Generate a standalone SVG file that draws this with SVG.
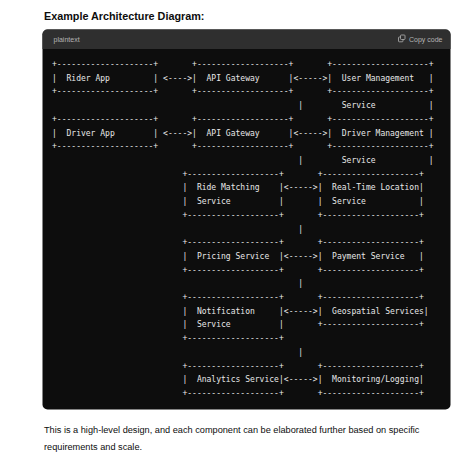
<svg xmlns="http://www.w3.org/2000/svg" width="474" height="460" viewBox="0 0 474 460">
<style>
.m{font-family:"DejaVu Sans Mono","Liberation Mono",monospace;font-size:8.02px;fill:#e8e8e8;white-space:pre}
.h{font-family:"Liberation Sans",Arial,sans-serif;font-size:7px;fill:#b4b4b4}
.p{font-family:"Liberation Sans",Arial,sans-serif;font-size:9.2px;fill:#0d0d0d}
</style>
<rect width="474" height="460" fill="#ffffff"/>
<text x="44" y="20" style="font-family:'Liberation Sans',Arial,sans-serif;font-size:10.8px;font-weight:bold;fill:#0d0d0d">Example Architecture Diagram:</text>
<g id="code-block">
<rect x="42.5" y="29.5" width="408" height="380" rx="5" fill="#0d0d0d"/>
<path d="M42.5 49 V34.5 a5 5 0 0 1 5 -5 H445.5 a5 5 0 0 1 5 5 V49 Z" fill="#2f2f2f"/>
<text class="h" x="53.5" y="41.5">plaintext</text>
<g fill="none" stroke="#b4b4b4" stroke-width="0.8">
<rect x="400.5" y="35" width="4.5" height="4.5" rx="0.8"/>
<path d="M400.5 37 H399.3 a0.8 0.8 0 0 0 -0.8 0.8 V41 a0.8 0.8 0 0 0 0.8 0.8 H402.2 a0.8 0.8 0 0 0 0.8 -0.8 V39.5"/>
</g>
<text class="h" x="409" y="41.5">Copy code</text>
</g>
<g xml:space="preserve">
<g id="rider-app">
<text class="m" x="52" y="67">+--------------------+</text>
<text class="m" x="52" y="80.71">|  Rider App         |</text>
<text class="m" x="52" y="94.42">+--------------------+</text>
</g>
<g id="api-gateway-1">
<text class="m" x="192.07" y="67">+-------------------+</text>
<text class="m" x="192.07" y="80.71">|  API Gateway      |</text>
<text class="m" x="192.07" y="94.42">+-------------------+</text>
</g>
<g id="user-management">
<text class="m" x="327.31" y="67">+--------------------+</text>
<text class="m" x="327.31" y="80.71">|  User Management   |</text>
<text class="m" x="327.31" y="94.42">+--------------------+</text>
<text class="m" x="327.31" y="108.13">   Service           |</text>
</g>
<g id="driver-app">
<text class="m" x="52" y="121.84">+--------------------+</text>
<text class="m" x="52" y="135.55">|  Driver App        |</text>
<text class="m" x="52" y="149.26">+--------------------+</text>
</g>
<g id="api-gateway-2">
<text class="m" x="192.07" y="121.84">+-------------------+</text>
<text class="m" x="192.07" y="135.55">|  API Gateway      |</text>
<text class="m" x="192.07" y="149.26">+-------------------+</text>
</g>
<g id="driver-management">
<text class="m" x="327.31" y="121.84">+--------------------+</text>
<text class="m" x="327.31" y="135.55">|  Driver Management |</text>
<text class="m" x="327.31" y="149.26">+--------------------+</text>
<text class="m" x="327.31" y="162.97">   Service           |</text>
</g>
<g id="ride-matching">
<text class="m" x="182.41" y="176.68">+-------------------+</text>
<text class="m" x="182.41" y="190.39">|  Ride Matching    |</text>
<text class="m" x="182.41" y="204.1">|  Service          |</text>
<text class="m" x="182.41" y="217.81">+-------------------+</text>
</g>
<g id="real-time-location">
<text class="m" x="317.65" y="176.68">+--------------------+</text>
<text class="m" x="317.65" y="190.39">|  Real-Time Location|</text>
<text class="m" x="317.65" y="204.1">|  Service           |</text>
<text class="m" x="317.65" y="217.81">+--------------------+</text>
</g>
<g id="pricing-service">
<text class="m" x="182.41" y="245.23">+-------------------+</text>
<text class="m" x="182.41" y="258.94">|  Pricing Service  |</text>
<text class="m" x="182.41" y="272.65">+-------------------+</text>
</g>
<g id="payment-service">
<text class="m" x="317.65" y="245.23">+--------------------+</text>
<text class="m" x="317.65" y="258.94">|  Payment Service   |</text>
<text class="m" x="317.65" y="272.65">+--------------------+</text>
</g>
<g id="notification-service">
<text class="m" x="182.41" y="300.07">+-------------------+</text>
<text class="m" x="182.41" y="313.78">|  Notification     |</text>
<text class="m" x="182.41" y="327.49">|  Service          |</text>
<text class="m" x="182.41" y="341.2">+-------------------+</text>
</g>
<g id="geospatial-services">
<text class="m" x="317.65" y="300.07">+--------------------+</text>
<text class="m" x="317.65" y="313.78">|  Geospatial Services|</text>
<text class="m" x="317.65" y="327.49">+--------------------+</text>
</g>
<g id="analytics-service">
<text class="m" x="182.41" y="368.62">+-------------------+</text>
<text class="m" x="182.41" y="382.33">|  Analytics Service|</text>
<text class="m" x="182.41" y="396.04">+-------------------+</text>
</g>
<g id="monitoring-logging">
<text class="m" x="317.65" y="368.62">+--------------------+</text>
<text class="m" x="317.65" y="382.33">|  Monitoring/Logging|</text>
<text class="m" x="317.65" y="396.04">+--------------------+</text>
</g>
<g id="connectors">
<text class="m" x="163.09" y="80.71">&lt;----&gt;</text>
<text class="m" x="293.5" y="80.71">&lt;-----&gt;</text>
<text class="m" x="298.33" y="108.13">|</text>
<text class="m" x="163.09" y="135.55">&lt;----&gt;</text>
<text class="m" x="293.5" y="135.55">&lt;-----&gt;</text>
<text class="m" x="298.33" y="162.97">|</text>
<text class="m" x="283.84" y="190.39">&lt;-----&gt;</text>
<text class="m" x="298.33" y="231.52">|</text>
<text class="m" x="283.84" y="258.94">&lt;-----&gt;</text>
<text class="m" x="298.33" y="286.36">|</text>
<text class="m" x="283.84" y="313.78">&lt;-----&gt;</text>
<text class="m" x="298.33" y="354.91">|</text>
<text class="m" x="283.84" y="382.33">&lt;-----&gt;</text>
</g>
</g>
<text class="p" x="44" y="432.5">This is a high-level design, and each component can be elaborated further based on specific</text>
<text class="p" x="44" y="450">requirements and scale.</text>
</svg>
